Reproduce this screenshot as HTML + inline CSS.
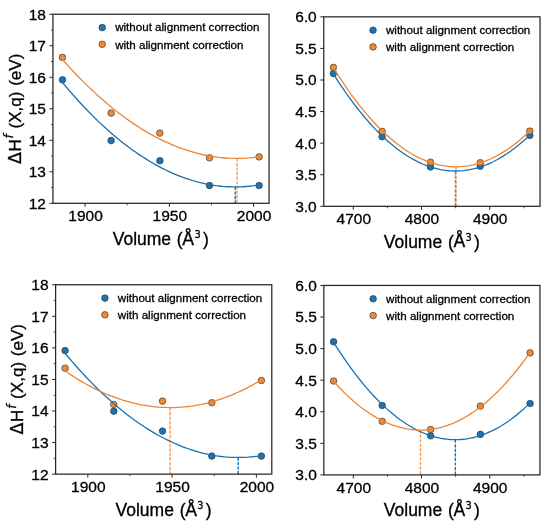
<!DOCTYPE html>
<html><head><meta charset="utf-8"><title>Figure</title>
<style>html,body{margin:0;padding:0;background:#fff;width:550px;height:524px;overflow:hidden}svg{display:block}text{fill:#000;stroke:#000;stroke-width:0.3px}</style>
</head><body>
<svg width="550" height="524" viewBox="0 0 550 524" style="position:absolute;left:0;top:0"><rect width="550" height="524" fill="#fff"/><g font-family="'Liberation Sans', Arial, Helvetica, sans-serif" fill="#000" stroke-width="0"><circle cx="62.5" cy="79.8" r="3.3" fill="#1c74b2" stroke="#2a2a2a" stroke-width="0.6"/><circle cx="111.1" cy="140.6" r="3.3" fill="#1c74b2" stroke="#2a2a2a" stroke-width="0.6"/><circle cx="159.9" cy="160.7" r="3.3" fill="#1c74b2" stroke="#2a2a2a" stroke-width="0.6"/><circle cx="209.5" cy="185.5" r="3.3" fill="#1c74b2" stroke="#2a2a2a" stroke-width="0.6"/><circle cx="259.1" cy="185.5" r="3.3" fill="#1c74b2" stroke="#2a2a2a" stroke-width="0.6"/><circle cx="62.4" cy="57.4" r="3.3" fill="#ee8b38" stroke="#2a2a2a" stroke-width="0.6"/><circle cx="111.1" cy="113.1" r="3.3" fill="#ee8b38" stroke="#2a2a2a" stroke-width="0.6"/><circle cx="159.8" cy="133.1" r="3.3" fill="#ee8b38" stroke="#2a2a2a" stroke-width="0.6"/><circle cx="209.5" cy="157.8" r="3.3" fill="#ee8b38" stroke="#2a2a2a" stroke-width="0.6"/><circle cx="259.1" cy="156.9" r="3.3" fill="#ee8b38" stroke="#2a2a2a" stroke-width="0.6"/><line x1="235.26" y1="186.91" x2="235.26" y2="203.3" stroke="#1a70b0" stroke-width="1.4" stroke-dasharray="3.2,1.35"/><line x1="237.05" y1="158.42" x2="237.05" y2="203.3" stroke="#f09c58" stroke-width="1.4" stroke-dasharray="3.2,1.35"/><path d="M62.5,82.55 L65.83,86.53 L69.16,90.44 L72.5,94.28 L75.83,98.03 L79.16,101.71 L82.49,105.3 L85.83,108.82 L89.16,112.27 L92.49,115.63 L95.82,118.92 L99.15,122.13 L102.49,125.26 L105.82,128.32 L109.15,131.3 L112.48,134.2 L115.82,137.02 L119.15,139.76 L122.48,142.43 L125.81,145.02 L129.14,147.53 L132.48,149.96 L135.81,152.32 L139.14,154.6 L142.47,156.8 L145.81,158.92 L149.14,160.97 L152.47,162.94 L155.8,164.83 L159.13,166.64 L162.47,168.38 L165.8,170.03 L169.13,171.61 L172.46,173.12 L175.79,174.54 L179.13,175.89 L182.46,177.16 L185.79,178.35 L189.12,179.46 L192.46,180.5 L195.79,181.46 L199.12,182.34 L202.45,183.14 L205.78,183.87 L209.12,184.51 L212.45,185.09 L215.78,185.58 L219.11,185.99 L222.45,186.33 L225.78,186.59 L229.11,186.77 L232.44,186.88 L235.77,186.9 L239.11,186.85 L242.44,186.73 L245.77,186.52 L249.1,186.24 L252.44,185.87 L255.77,185.44 L259.1,184.92" fill="none" stroke="#1a71b0" stroke-width="1.3"/><path d="M62.4,59.47 L65.73,63.21 L69.07,66.88 L72.4,70.48 L75.74,74.01 L79.07,77.46 L82.4,80.84 L85.74,84.15 L89.07,87.39 L92.41,90.55 L95.74,93.64 L99.07,96.66 L102.41,99.61 L105.74,102.49 L109.07,105.29 L112.41,108.03 L115.74,110.69 L119.08,113.27 L122.41,115.79 L125.74,118.23 L129.08,120.6 L132.41,122.9 L135.75,125.13 L139.08,127.29 L142.41,129.37 L145.75,131.38 L149.08,133.32 L152.42,135.19 L155.75,136.98 L159.08,138.7 L162.42,140.35 L165.75,141.93 L169.08,143.44 L172.42,144.87 L175.75,146.23 L179.09,147.52 L182.42,148.74 L185.75,149.89 L189.09,150.96 L192.42,151.96 L195.76,152.89 L199.09,153.75 L202.42,154.53 L205.76,155.24 L209.09,155.89 L212.43,156.45 L215.76,156.95 L219.09,157.38 L222.43,157.73 L225.76,158.01 L229.09,158.22 L232.43,158.35 L235.76,158.42 L239.1,158.41 L242.43,158.33 L245.76,158.17 L249.1,157.95 L252.43,157.65 L255.77,157.28 L259.1,156.84" fill="none" stroke="#ec8636" stroke-width="1.3"/><rect x="52.95" y="14.25" width="216.15" height="189.05" fill="none" stroke="#262626" stroke-width="1.25"/><line x1="85.1" y1="203.3" x2="85.1" y2="206.8" stroke="#262626" stroke-width="1"/><text x="85.6" y="221.3" text-anchor="middle" font-size="15.5">1900</text><line x1="169.35" y1="203.3" x2="169.35" y2="206.8" stroke="#262626" stroke-width="1"/><text x="169.85" y="221.3" text-anchor="middle" font-size="15.5">1950</text><line x1="253.6" y1="203.3" x2="253.6" y2="206.8" stroke="#262626" stroke-width="1"/><text x="254.1" y="221.3" text-anchor="middle" font-size="15.5">2000</text><line x1="127.22" y1="203.3" x2="127.22" y2="205.3" stroke="#262626" stroke-width="0.8"/><line x1="211.47" y1="203.3" x2="211.47" y2="205.3" stroke="#262626" stroke-width="0.8"/><line x1="52.95" y1="203.3" x2="49.45" y2="203.3" stroke="#262626" stroke-width="1"/><text x="45.95" y="208.7" text-anchor="end" font-size="15.5">12</text><line x1="52.95" y1="171.79" x2="49.45" y2="171.79" stroke="#262626" stroke-width="1"/><text x="45.95" y="177.19" text-anchor="end" font-size="15.5">13</text><line x1="52.95" y1="140.28" x2="49.45" y2="140.28" stroke="#262626" stroke-width="1"/><text x="45.95" y="145.68" text-anchor="end" font-size="15.5">14</text><line x1="52.95" y1="108.77" x2="49.45" y2="108.77" stroke="#262626" stroke-width="1"/><text x="45.95" y="114.17" text-anchor="end" font-size="15.5">15</text><line x1="52.95" y1="77.27" x2="49.45" y2="77.27" stroke="#262626" stroke-width="1"/><text x="45.95" y="82.67" text-anchor="end" font-size="15.5">16</text><line x1="52.95" y1="45.76" x2="49.45" y2="45.76" stroke="#262626" stroke-width="1"/><text x="45.95" y="51.16" text-anchor="end" font-size="15.5">17</text><line x1="52.95" y1="14.25" x2="49.45" y2="14.25" stroke="#262626" stroke-width="1"/><text x="45.95" y="19.65" text-anchor="end" font-size="15.5">18</text><line x1="52.95" y1="187.55" x2="50.95" y2="187.55" stroke="#262626" stroke-width="0.8"/><line x1="52.95" y1="156.04" x2="50.95" y2="156.04" stroke="#262626" stroke-width="0.8"/><line x1="52.95" y1="124.53" x2="50.95" y2="124.53" stroke="#262626" stroke-width="0.8"/><line x1="52.95" y1="93.02" x2="50.95" y2="93.02" stroke="#262626" stroke-width="0.8"/><line x1="52.95" y1="61.51" x2="50.95" y2="61.51" stroke="#262626" stroke-width="0.8"/><line x1="52.95" y1="30" x2="50.95" y2="30" stroke="#262626" stroke-width="0.8"/><text x="112.73" y="244.8" font-size="17.5">Volume</text><text x="176.85" y="244.8" font-size="17.5">(</text><text x="182.33" y="244.5" font-size="17.3" font-family="DejaVu Sans, sans-serif">Å</text><text x="194.42" y="238" font-size="9.8" font-family="DejaVu Sans, sans-serif">3</text><text x="203.02" y="244.8" font-size="17.5">)</text><text transform="translate(20.6,164.12) rotate(-90)" font-size="17.3" font-family="DejaVu Sans, sans-serif">Δ</text><text transform="translate(20.6,151.54) rotate(-90)" font-size="16.8">H</text><text transform="translate(13.4,138.44) rotate(-90)" font-size="12" font-family="DejaVu Sans, sans-serif" font-style="oblique">f</text><text transform="translate(20.6,128.53) rotate(-90)" font-size="17.1">(X,q)</text><text transform="translate(20.6,85.83) rotate(-90)" font-size="17.1">(eV)</text><circle cx="102.25" cy="27.6" r="3.3" fill="#1c74b2" stroke="#2a2a2a" stroke-width="0.6"/><circle cx="102.25" cy="44.3" r="3.3" fill="#ee8b38" stroke="#2a2a2a" stroke-width="0.6"/><text x="115.15" y="31.4" font-size="11.6">without alignment correction</text><text x="115.15" y="48.5" font-size="11.6">with alignment correction</text></g><g font-family="'Liberation Sans', Arial, Helvetica, sans-serif" fill="#000" stroke-width="0"><circle cx="333.4" cy="73.6" r="3.3" fill="#1c74b2" stroke="#2a2a2a" stroke-width="0.6"/><circle cx="382.1" cy="136.7" r="3.3" fill="#1c74b2" stroke="#2a2a2a" stroke-width="0.6"/><circle cx="430.5" cy="167" r="3.3" fill="#1c74b2" stroke="#2a2a2a" stroke-width="0.6"/><circle cx="480.2" cy="166.2" r="3.3" fill="#1c74b2" stroke="#2a2a2a" stroke-width="0.6"/><circle cx="529.8" cy="135.4" r="3.3" fill="#1c74b2" stroke="#2a2a2a" stroke-width="0.6"/><circle cx="333.4" cy="67.4" r="3.3" fill="#ee8b38" stroke="#2a2a2a" stroke-width="0.6"/><circle cx="382.1" cy="131.4" r="3.3" fill="#ee8b38" stroke="#2a2a2a" stroke-width="0.6"/><circle cx="430.5" cy="162.2" r="3.3" fill="#ee8b38" stroke="#2a2a2a" stroke-width="0.6"/><circle cx="480.2" cy="162.7" r="3.3" fill="#ee8b38" stroke="#2a2a2a" stroke-width="0.6"/><circle cx="529.8" cy="131.1" r="3.3" fill="#ee8b38" stroke="#2a2a2a" stroke-width="0.6"/><line x1="455.46" y1="171" x2="455.46" y2="206.3" stroke="#1a70b0" stroke-width="1.4" stroke-dasharray="3.2,1.35"/><line x1="456.04" y1="166.79" x2="456.04" y2="206.3" stroke="#f09c58" stroke-width="1.4" stroke-dasharray="3.2,1.35"/><path d="M333.4,73.98 L336.73,79.2 L340.06,84.28 L343.39,89.21 L346.72,94 L350.04,98.64 L353.37,103.14 L356.7,107.49 L360.03,111.7 L363.36,115.76 L366.69,119.68 L370.02,123.46 L373.35,127.09 L376.67,130.58 L380,133.92 L383.33,137.12 L386.66,140.18 L389.99,143.09 L393.32,145.85 L396.65,148.48 L399.98,150.95 L403.31,153.29 L406.63,155.48 L409.96,157.52 L413.29,159.42 L416.62,161.18 L419.95,162.79 L423.28,164.26 L426.61,165.58 L429.94,166.76 L433.26,167.79 L436.59,168.68 L439.92,169.43 L443.25,170.03 L446.58,170.49 L449.91,170.8 L453.24,170.97 L456.57,170.99 L459.89,170.87 L463.22,170.61 L466.55,170.2 L469.88,169.64 L473.21,168.95 L476.54,168.1 L479.87,167.12 L483.2,165.99 L486.53,164.71 L489.85,163.29 L493.18,161.73 L496.51,160.02 L499.84,158.17 L503.17,156.17 L506.5,154.03 L509.83,151.75 L513.16,149.32 L516.48,146.74 L519.81,144.03 L523.14,141.16 L526.47,138.16 L529.8,135.01" fill="none" stroke="#1a71b0" stroke-width="1.3"/><path d="M333.4,67.67 L336.73,72.98 L340.06,78.14 L343.39,83.16 L346.72,88.03 L350.04,92.75 L353.37,97.33 L356.7,101.76 L360.03,106.04 L363.36,110.18 L366.69,114.18 L370.02,118.02 L373.35,121.73 L376.67,125.28 L380,128.69 L383.33,131.95 L386.66,135.07 L389.99,138.04 L393.32,140.87 L396.65,143.54 L399.98,146.08 L403.31,148.46 L406.63,150.71 L409.96,152.8 L413.29,154.75 L416.62,156.55 L419.95,158.21 L423.28,159.72 L426.61,161.08 L429.94,162.3 L433.26,163.37 L436.59,164.3 L439.92,165.08 L443.25,165.71 L446.58,166.2 L449.91,166.54 L453.24,166.74 L456.57,166.79 L459.89,166.69 L463.22,166.45 L466.55,166.06 L469.88,165.53 L473.21,164.85 L476.54,164.02 L479.87,163.05 L483.2,161.93 L486.53,160.66 L489.85,159.25 L493.18,157.7 L496.51,155.99 L499.84,154.15 L503.17,152.15 L506.5,150.01 L509.83,147.72 L513.16,145.29 L516.48,142.71 L519.81,139.98 L523.14,137.11 L526.47,134.1 L529.8,130.93" fill="none" stroke="#ec8636" stroke-width="1.3"/><rect x="323.75" y="16.85" width="216.3" height="189.45" fill="none" stroke="#262626" stroke-width="1.25"/><line x1="353.3" y1="206.3" x2="353.3" y2="209.8" stroke="#262626" stroke-width="1"/><text x="353.8" y="224.3" text-anchor="middle" font-size="15.5">4700</text><line x1="421.5" y1="206.3" x2="421.5" y2="209.8" stroke="#262626" stroke-width="1"/><text x="422" y="224.3" text-anchor="middle" font-size="15.5">4800</text><line x1="489.7" y1="206.3" x2="489.7" y2="209.8" stroke="#262626" stroke-width="1"/><text x="490.2" y="224.3" text-anchor="middle" font-size="15.5">4900</text><line x1="387.4" y1="206.3" x2="387.4" y2="208.3" stroke="#262626" stroke-width="0.8"/><line x1="455.6" y1="206.3" x2="455.6" y2="208.3" stroke="#262626" stroke-width="0.8"/><line x1="523.8" y1="206.3" x2="523.8" y2="208.3" stroke="#262626" stroke-width="0.8"/><line x1="323.75" y1="206.3" x2="320.25" y2="206.3" stroke="#262626" stroke-width="1"/><text x="316.75" y="211.7" text-anchor="end" font-size="15.5">3.0</text><line x1="323.75" y1="174.73" x2="320.25" y2="174.73" stroke="#262626" stroke-width="1"/><text x="316.75" y="180.13" text-anchor="end" font-size="15.5">3.5</text><line x1="323.75" y1="143.15" x2="320.25" y2="143.15" stroke="#262626" stroke-width="1"/><text x="316.75" y="148.55" text-anchor="end" font-size="15.5">4.0</text><line x1="323.75" y1="111.58" x2="320.25" y2="111.58" stroke="#262626" stroke-width="1"/><text x="316.75" y="116.98" text-anchor="end" font-size="15.5">4.5</text><line x1="323.75" y1="80" x2="320.25" y2="80" stroke="#262626" stroke-width="1"/><text x="316.75" y="85.4" text-anchor="end" font-size="15.5">5.0</text><line x1="323.75" y1="48.42" x2="320.25" y2="48.42" stroke="#262626" stroke-width="1"/><text x="316.75" y="53.82" text-anchor="end" font-size="15.5">5.5</text><line x1="323.75" y1="16.85" x2="320.25" y2="16.85" stroke="#262626" stroke-width="1"/><text x="316.75" y="22.25" text-anchor="end" font-size="15.5">6.0</text><text x="383.82" y="247.55" font-size="17.5">Volume</text><text x="447.95" y="247.55" font-size="17.5">(</text><text x="453.43" y="247.25" font-size="17.3" font-family="DejaVu Sans, sans-serif">Å</text><text x="465.52" y="240.75" font-size="9.8" font-family="DejaVu Sans, sans-serif">3</text><text x="474.12" y="247.55" font-size="17.5">)</text><circle cx="373.05" cy="30.2" r="3.3" fill="#1c74b2" stroke="#2a2a2a" stroke-width="0.6"/><circle cx="373.05" cy="46.9" r="3.3" fill="#ee8b38" stroke="#2a2a2a" stroke-width="0.6"/><text x="385.95" y="34" font-size="11.6">without alignment correction</text><text x="385.95" y="51.1" font-size="11.6">with alignment correction</text></g><g font-family="'Liberation Sans', Arial, Helvetica, sans-serif" fill="#000" stroke-width="0"><circle cx="65.1" cy="350.6" r="3.3" fill="#1c74b2" stroke="#2a2a2a" stroke-width="0.6"/><circle cx="113.8" cy="411.2" r="3.3" fill="#1c74b2" stroke="#2a2a2a" stroke-width="0.6"/><circle cx="162.5" cy="431.1" r="3.3" fill="#1c74b2" stroke="#2a2a2a" stroke-width="0.6"/><circle cx="211.8" cy="456.1" r="3.3" fill="#1c74b2" stroke="#2a2a2a" stroke-width="0.6"/><circle cx="261.4" cy="456.1" r="3.3" fill="#1c74b2" stroke="#2a2a2a" stroke-width="0.6"/><circle cx="65.1" cy="368.2" r="3.3" fill="#ee8b38" stroke="#2a2a2a" stroke-width="0.6"/><circle cx="113.8" cy="404.5" r="3.3" fill="#ee8b38" stroke="#2a2a2a" stroke-width="0.6"/><circle cx="162.5" cy="401.1" r="3.3" fill="#ee8b38" stroke="#2a2a2a" stroke-width="0.6"/><circle cx="211.8" cy="402.7" r="3.3" fill="#ee8b38" stroke="#2a2a2a" stroke-width="0.6"/><circle cx="261.4" cy="380.5" r="3.3" fill="#ee8b38" stroke="#2a2a2a" stroke-width="0.6"/><line x1="238.19" y1="457.45" x2="238.19" y2="474.15" stroke="#1a70b0" stroke-width="1.4" stroke-dasharray="3.2,1.35"/><line x1="170.17" y1="407.56" x2="170.17" y2="474.15" stroke="#f09c58" stroke-width="1.4" stroke-dasharray="3.2,1.35"/><path d="M65.1,353.3 L68.43,357.26 L71.75,361.15 L75.08,364.96 L78.41,368.7 L81.74,372.36 L85.06,375.94 L88.39,379.44 L91.72,382.87 L95.04,386.22 L98.37,389.49 L101.7,392.69 L105.03,395.8 L108.35,398.85 L111.68,401.81 L115.01,404.7 L118.33,407.51 L121.66,410.24 L124.99,412.9 L128.32,415.48 L131.64,417.99 L134.97,420.41 L138.3,422.76 L141.62,425.03 L144.95,427.23 L148.28,429.35 L151.61,431.39 L154.93,433.35 L158.26,435.24 L161.59,437.05 L164.91,438.78 L168.24,440.44 L171.57,442.02 L174.89,443.52 L178.22,444.95 L181.55,446.3 L184.88,447.57 L188.2,448.76 L191.53,449.88 L194.86,450.92 L198.18,451.89 L201.51,452.77 L204.84,453.58 L208.17,454.32 L211.49,454.97 L214.82,455.55 L218.15,456.05 L221.47,456.48 L224.8,456.83 L228.13,457.1 L231.46,457.29 L234.78,457.41 L238.11,457.45 L241.44,457.41 L244.76,457.3 L248.09,457.11 L251.42,456.84 L254.75,456.5 L258.07,456.08 L261.4,455.58" fill="none" stroke="#1a71b0" stroke-width="1.3"/><path d="M65.1,370.9 L68.43,373.19 L71.75,375.4 L75.08,377.54 L78.41,379.6 L81.74,381.59 L85.06,383.51 L88.39,385.35 L91.72,387.12 L95.04,388.82 L98.37,390.44 L101.7,391.99 L105.03,393.47 L108.35,394.87 L111.68,396.2 L115.01,397.46 L118.33,398.64 L121.66,399.75 L124.99,400.78 L128.32,401.74 L131.64,402.63 L134.97,403.45 L138.3,404.19 L141.62,404.86 L144.95,405.45 L148.28,405.97 L151.61,406.42 L154.93,406.79 L158.26,407.09 L161.59,407.32 L164.91,407.47 L168.24,407.55 L171.57,407.55 L174.89,407.49 L178.22,407.35 L181.55,407.13 L184.88,406.84 L188.2,406.48 L191.53,406.05 L194.86,405.54 L198.18,404.95 L201.51,404.3 L204.84,403.57 L208.17,402.77 L211.49,401.89 L214.82,400.94 L218.15,399.92 L221.47,398.82 L224.8,397.65 L228.13,396.4 L231.46,395.09 L234.78,393.69 L238.11,392.23 L241.44,390.69 L244.76,389.08 L248.09,387.39 L251.42,385.64 L254.75,383.8 L258.07,381.9 L261.4,379.92" fill="none" stroke="#ec8636" stroke-width="1.3"/><rect x="55.6" y="284.75" width="216.2" height="189.4" fill="none" stroke="#262626" stroke-width="1.25"/><line x1="87.8" y1="474.15" x2="87.8" y2="477.65" stroke="#262626" stroke-width="1"/><text x="88.3" y="492.15" text-anchor="middle" font-size="15.5">1900</text><line x1="172.1" y1="474.15" x2="172.1" y2="477.65" stroke="#262626" stroke-width="1"/><text x="172.6" y="492.15" text-anchor="middle" font-size="15.5">1950</text><line x1="256.4" y1="474.15" x2="256.4" y2="477.65" stroke="#262626" stroke-width="1"/><text x="256.9" y="492.15" text-anchor="middle" font-size="15.5">2000</text><line x1="129.95" y1="474.15" x2="129.95" y2="476.15" stroke="#262626" stroke-width="0.8"/><line x1="214.25" y1="474.15" x2="214.25" y2="476.15" stroke="#262626" stroke-width="0.8"/><line x1="55.6" y1="474.15" x2="52.1" y2="474.15" stroke="#262626" stroke-width="1"/><text x="48.6" y="479.55" text-anchor="end" font-size="15.5">12</text><line x1="55.6" y1="442.58" x2="52.1" y2="442.58" stroke="#262626" stroke-width="1"/><text x="48.6" y="447.98" text-anchor="end" font-size="15.5">13</text><line x1="55.6" y1="411.02" x2="52.1" y2="411.02" stroke="#262626" stroke-width="1"/><text x="48.6" y="416.42" text-anchor="end" font-size="15.5">14</text><line x1="55.6" y1="379.45" x2="52.1" y2="379.45" stroke="#262626" stroke-width="1"/><text x="48.6" y="384.85" text-anchor="end" font-size="15.5">15</text><line x1="55.6" y1="347.88" x2="52.1" y2="347.88" stroke="#262626" stroke-width="1"/><text x="48.6" y="353.28" text-anchor="end" font-size="15.5">16</text><line x1="55.6" y1="316.32" x2="52.1" y2="316.32" stroke="#262626" stroke-width="1"/><text x="48.6" y="321.72" text-anchor="end" font-size="15.5">17</text><line x1="55.6" y1="284.75" x2="52.1" y2="284.75" stroke="#262626" stroke-width="1"/><text x="48.6" y="290.15" text-anchor="end" font-size="15.5">18</text><line x1="55.6" y1="458.37" x2="53.6" y2="458.37" stroke="#262626" stroke-width="0.8"/><line x1="55.6" y1="426.8" x2="53.6" y2="426.8" stroke="#262626" stroke-width="0.8"/><line x1="55.6" y1="395.23" x2="53.6" y2="395.23" stroke="#262626" stroke-width="0.8"/><line x1="55.6" y1="363.67" x2="53.6" y2="363.67" stroke="#262626" stroke-width="0.8"/><line x1="55.6" y1="332.1" x2="53.6" y2="332.1" stroke="#262626" stroke-width="0.8"/><line x1="55.6" y1="300.53" x2="53.6" y2="300.53" stroke="#262626" stroke-width="0.8"/><text x="115.53" y="515.8" font-size="17.5">Volume</text><text x="179.65" y="515.8" font-size="17.5">(</text><text x="185.13" y="515.5" font-size="17.3" font-family="DejaVu Sans, sans-serif">Å</text><text x="197.22" y="509" font-size="9.8" font-family="DejaVu Sans, sans-serif">3</text><text x="205.82" y="515.8" font-size="17.5">)</text><text transform="translate(22.9,434.52) rotate(-90)" font-size="17.3" font-family="DejaVu Sans, sans-serif">Δ</text><text transform="translate(22.9,421.94) rotate(-90)" font-size="16.8">H</text><text transform="translate(15.7,408.84) rotate(-90)" font-size="12" font-family="DejaVu Sans, sans-serif" font-style="oblique">f</text><text transform="translate(22.9,398.93) rotate(-90)" font-size="17.1">(X,q)</text><text transform="translate(22.9,356.23) rotate(-90)" font-size="17.1">(eV)</text><circle cx="104.9" cy="298.1" r="3.3" fill="#1c74b2" stroke="#2a2a2a" stroke-width="0.6"/><circle cx="104.9" cy="314.8" r="3.3" fill="#ee8b38" stroke="#2a2a2a" stroke-width="0.6"/><text x="117.8" y="301.9" font-size="11.6">without alignment correction</text><text x="117.8" y="319" font-size="11.6">with alignment correction</text></g><g font-family="'Liberation Sans', Arial, Helvetica, sans-serif" fill="#000" stroke-width="0"><circle cx="333.6" cy="341.8" r="3.3" fill="#1c74b2" stroke="#2a2a2a" stroke-width="0.6"/><circle cx="382.2" cy="405.5" r="3.3" fill="#1c74b2" stroke="#2a2a2a" stroke-width="0.6"/><circle cx="430.6" cy="435.8" r="3.3" fill="#1c74b2" stroke="#2a2a2a" stroke-width="0.6"/><circle cx="480.4" cy="434.4" r="3.3" fill="#1c74b2" stroke="#2a2a2a" stroke-width="0.6"/><circle cx="530.1" cy="403.5" r="3.3" fill="#1c74b2" stroke="#2a2a2a" stroke-width="0.6"/><circle cx="333.6" cy="381" r="3.3" fill="#ee8b38" stroke="#2a2a2a" stroke-width="0.6"/><circle cx="382.2" cy="421.3" r="3.3" fill="#ee8b38" stroke="#2a2a2a" stroke-width="0.6"/><circle cx="430.6" cy="429.5" r="3.3" fill="#ee8b38" stroke="#2a2a2a" stroke-width="0.6"/><circle cx="480.4" cy="406.1" r="3.3" fill="#ee8b38" stroke="#2a2a2a" stroke-width="0.6"/><circle cx="530.1" cy="352.9" r="3.3" fill="#ee8b38" stroke="#2a2a2a" stroke-width="0.6"/><line x1="455.34" y1="439.67" x2="455.34" y2="474.9" stroke="#1a70b0" stroke-width="1.4" stroke-dasharray="3.2,1.35"/><line x1="420.48" y1="430.07" x2="420.48" y2="474.9" stroke="#f09c58" stroke-width="1.4" stroke-dasharray="3.2,1.35"/><path d="M333.6,342.31 L336.93,347.57 L340.26,352.68 L343.59,357.64 L346.92,362.46 L350.25,367.13 L353.58,371.65 L356.91,376.03 L360.24,380.27 L363.57,384.35 L366.91,388.3 L370.24,392.09 L373.57,395.75 L376.9,399.25 L380.23,402.61 L383.56,405.82 L386.89,408.89 L390.22,411.82 L393.55,414.59 L396.88,417.22 L400.21,419.71 L403.54,422.05 L406.87,424.24 L410.2,426.29 L413.53,428.19 L416.86,429.95 L420.19,431.56 L423.52,433.02 L426.85,434.34 L430.18,435.52 L433.52,436.55 L436.85,437.43 L440.18,438.16 L443.51,438.75 L446.84,439.2 L450.17,439.5 L453.5,439.65 L456.83,439.66 L460.16,439.52 L463.49,439.24 L466.82,438.81 L470.15,438.23 L473.48,437.51 L476.81,436.64 L480.14,435.63 L483.47,434.47 L486.8,433.17 L490.13,431.72 L493.46,430.12 L496.79,428.38 L500.13,426.5 L503.46,424.46 L506.79,422.28 L510.12,419.96 L513.45,417.49 L516.78,414.87 L520.11,412.11 L523.44,409.21 L526.77,406.15 L530.1,402.95" fill="none" stroke="#1a71b0" stroke-width="1.3"/><path d="M333.6,381.36 L336.93,385.02 L340.26,388.54 L343.59,391.92 L346.92,395.15 L350.25,398.24 L353.58,401.19 L356.91,404 L360.24,406.66 L363.57,409.17 L366.91,411.55 L370.24,413.78 L373.57,415.87 L376.9,417.81 L380.23,419.61 L383.56,421.27 L386.89,422.79 L390.22,424.16 L393.55,425.39 L396.88,426.48 L400.21,427.42 L403.54,428.22 L406.87,428.87 L410.2,429.39 L413.53,429.76 L416.86,429.98 L420.19,430.07 L423.52,430.01 L426.85,429.81 L430.18,429.46 L433.52,428.97 L436.85,428.34 L440.18,427.57 L443.51,426.65 L446.84,425.59 L450.17,424.38 L453.5,423.03 L456.83,421.54 L460.16,419.91 L463.49,418.13 L466.82,416.21 L470.15,414.15 L473.48,411.94 L476.81,409.59 L480.14,407.1 L483.47,404.46 L486.8,401.68 L490.13,398.76 L493.46,395.69 L496.79,392.48 L500.13,389.13 L503.46,385.64 L506.79,382 L510.12,378.22 L513.45,374.29 L516.78,370.22 L520.11,366.01 L523.44,361.66 L526.77,357.16 L530.1,352.52" fill="none" stroke="#ec8636" stroke-width="1.3"/><rect x="323.85" y="285.45" width="216.1" height="189.45" fill="none" stroke="#262626" stroke-width="1.25"/><line x1="353.3" y1="474.9" x2="353.3" y2="478.4" stroke="#262626" stroke-width="1"/><text x="353.8" y="492.9" text-anchor="middle" font-size="15.5">4700</text><line x1="421.5" y1="474.9" x2="421.5" y2="478.4" stroke="#262626" stroke-width="1"/><text x="422" y="492.9" text-anchor="middle" font-size="15.5">4800</text><line x1="489.7" y1="474.9" x2="489.7" y2="478.4" stroke="#262626" stroke-width="1"/><text x="490.2" y="492.9" text-anchor="middle" font-size="15.5">4900</text><line x1="387.4" y1="474.9" x2="387.4" y2="476.9" stroke="#262626" stroke-width="0.8"/><line x1="455.6" y1="474.9" x2="455.6" y2="476.9" stroke="#262626" stroke-width="0.8"/><line x1="523.8" y1="474.9" x2="523.8" y2="476.9" stroke="#262626" stroke-width="0.8"/><line x1="323.85" y1="474.9" x2="320.35" y2="474.9" stroke="#262626" stroke-width="1"/><text x="316.85" y="480.3" text-anchor="end" font-size="15.5">3.0</text><line x1="323.85" y1="443.32" x2="320.35" y2="443.32" stroke="#262626" stroke-width="1"/><text x="316.85" y="448.72" text-anchor="end" font-size="15.5">3.5</text><line x1="323.85" y1="411.75" x2="320.35" y2="411.75" stroke="#262626" stroke-width="1"/><text x="316.85" y="417.15" text-anchor="end" font-size="15.5">4.0</text><line x1="323.85" y1="380.18" x2="320.35" y2="380.18" stroke="#262626" stroke-width="1"/><text x="316.85" y="385.57" text-anchor="end" font-size="15.5">4.5</text><line x1="323.85" y1="348.6" x2="320.35" y2="348.6" stroke="#262626" stroke-width="1"/><text x="316.85" y="354" text-anchor="end" font-size="15.5">5.0</text><line x1="323.85" y1="317.02" x2="320.35" y2="317.02" stroke="#262626" stroke-width="1"/><text x="316.85" y="322.42" text-anchor="end" font-size="15.5">5.5</text><line x1="323.85" y1="285.45" x2="320.35" y2="285.45" stroke="#262626" stroke-width="1"/><text x="316.85" y="290.85" text-anchor="end" font-size="15.5">6.0</text><text x="383.82" y="516.1" font-size="17.5">Volume</text><text x="447.95" y="516.1" font-size="17.5">(</text><text x="453.43" y="515.8" font-size="17.3" font-family="DejaVu Sans, sans-serif">Å</text><text x="465.52" y="509.3" font-size="9.8" font-family="DejaVu Sans, sans-serif">3</text><text x="474.12" y="516.1" font-size="17.5">)</text><circle cx="373.15" cy="298.8" r="3.3" fill="#1c74b2" stroke="#2a2a2a" stroke-width="0.6"/><circle cx="373.15" cy="315.5" r="3.3" fill="#ee8b38" stroke="#2a2a2a" stroke-width="0.6"/><text x="386.05" y="302.6" font-size="11.6">without alignment correction</text><text x="386.05" y="319.7" font-size="11.6">with alignment correction</text></g></svg>
</body></html>
